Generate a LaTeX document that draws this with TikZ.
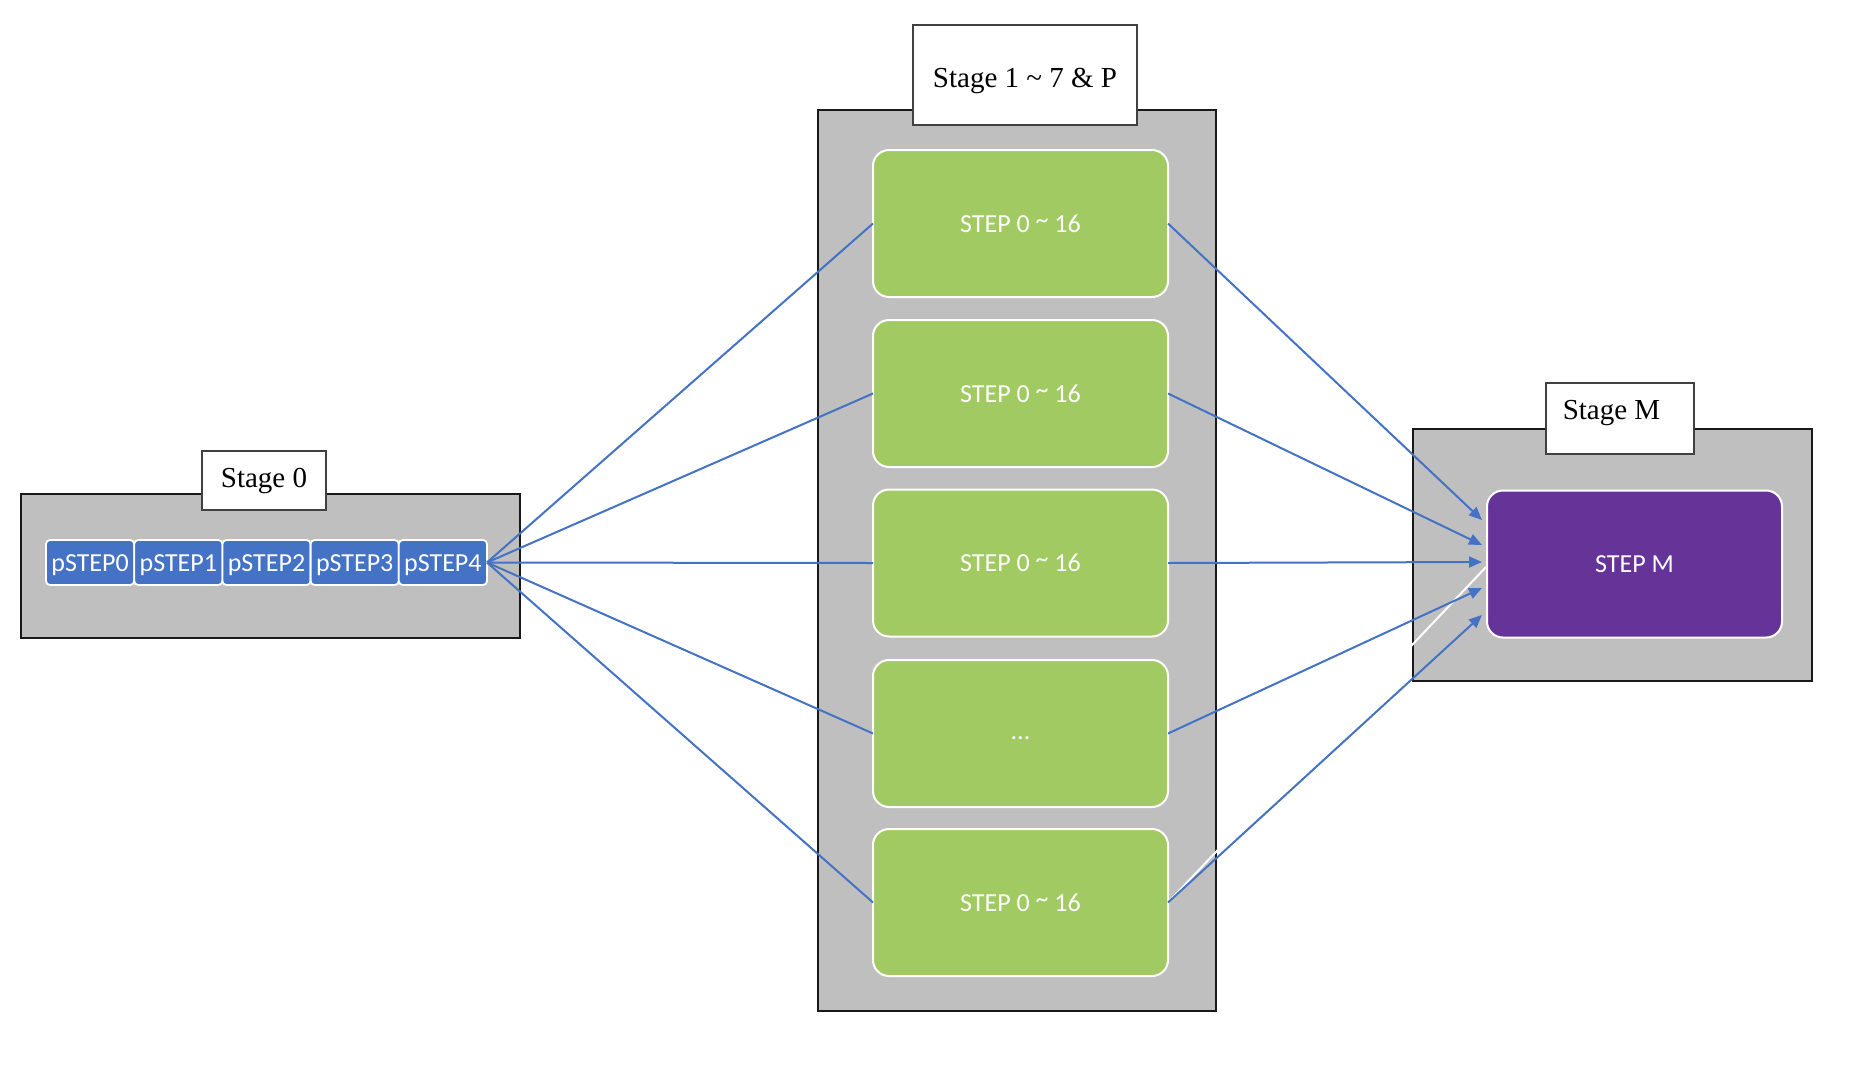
\documentclass[tikz,border=0pt]{standalone}
\usepackage{fontspec}
\setmainfont{Liberation Serif}
\newfontfamily\calibri{Carlito}
\usetikzlibrary{arrows.meta,calc}
\definecolor{stagegray}{HTML}{BFBFBF}
\definecolor{stepgreen}{HTML}{A1CB62}
\definecolor{steppurple}{HTML}{663399}
\definecolor{pblue}{HTML}{4472C4}
\definecolor{linkblue}{HTML}{4472C4}
\definecolor{labborder}{HTML}{404040}
\newcommand{\midtilde}{\raisebox{0.15em}{\textasciitilde}}
\begin{document}
\begin{tikzpicture}[x=1pt,y=-1pt,
  outerbox/.style={draw=black!90, line width=2.5pt, fill=stagegray, outer sep=0pt, inner sep=0pt},
  labelbox/.style={draw=labborder, line width=1.3pt, fill=white, outer sep=0pt, inner sep=0pt, font=\fontsize{29}{34}\selectfont},
  greenbox/.style={draw=white, line width=2pt, fill=stepgreen, rounded corners=16pt, minimum width=295pt, minimum height=147pt, outer sep=0pt, inner sep=0pt, text=white, font=\calibri\fontsize{26}{31}\selectfont},
  purplebox/.style={greenbox, fill=steppurple},
  pbox/.style={draw=white, line width=1.8pt, fill=pblue, rounded corners=4pt, minimum width=88.2pt, minimum height=45pt, outer sep=0pt, inner sep=0pt, text=white, text height=17pt, text depth=0pt, font=\calibri\fontsize{26}{31}\selectfont},
  link/.style={draw=linkblue, line width=2pt},
  arrowlink/.style={link, -{Triangle[length=13pt,width=11pt]}},
  ghost/.style={draw=white, line width=2pt}
]
\useasboundingbox (0,0) rectangle (1850,1082);

% outer stage boxes
\node[outerbox, minimum width=499pt, minimum height=144pt] (s0box) at (270.5,566) {};
\node[outerbox, minimum width=398pt, minimum height=901pt] (midbox) at (1017,560.5) {};
\node[outerbox, minimum width=399pt, minimum height=252pt] (smbox) at (1612.5,555) {};

% stage labels
\node[labelbox, minimum width=124pt, minimum height=59pt] (s0lab) at (264,480.5) {Stage 0};
\node[labelbox, minimum width=224pt, minimum height=100pt, text height=24pt, text depth=0pt] (midlab) at (1025,75) {Stage 1 \textasciitilde{} 7 \& P};
\node[labelbox, minimum width=148pt, minimum height=71pt] (smlab) at (1620,418.5) {};
\node[font=\fontsize{29}{34}\selectfont, inner sep=0pt] (smtext) at (1611.5,413) {Stage M};

% pSTEP boxes
\node[pbox] (p0) at (90.1,562.5) {pSTEP0};
\node[pbox] (p1) at (178.3,562.5) {pSTEP1};
\node[pbox] (p2) at (266.5,562.5) {pSTEP2};
\node[pbox] (p3) at (354.7,562.5) {pSTEP3};
\node[pbox] (p4) at (442.9,562.5) {pSTEP4};

% green step boxes
\node[greenbox] (g1) at (1020.5,223.5) {STEP 0 \midtilde{} 16};
\node[greenbox] (g2) at (1020.5,393.5) {STEP 0 \midtilde{} 16};
\node[greenbox] (g3) at (1020.5,563) {STEP 0 \midtilde{} 16};
\node[greenbox, text height=12pt, text depth=0pt] (g4) at (1020.5,733.5) {...};
\node[greenbox] (g5) at (1020.5,902.5) {STEP 0 \midtilde{} 16};

% step M
\node[purplebox] (stepM) at (1634.5,564) {STEP M};

% arrow tip targets
\coordinate (t1) at ($(stepM.west)+(-5,-44)$);
\coordinate (t2) at ($(stepM.west)+(-5,-19)$);
\coordinate (t3) at ($(stepM.west)+(-5,-2)$);
\coordinate (t4) at ($(stepM.west)+(-5,24)$);
\coordinate (t5) at ($(stepM.west)+(-5,51)$);
\coordinate (w5) at ($(stepM.west)+(-1,3)$);

% connectors from pSTEP4
\foreach \g in {g1,g2,g3,g4,g5}{
  \draw[link] (p4.east) -- (\g.west);
}

% faint white connector
\draw[ghost] (g5.east) -- (w5);

% arrows to STEP M
\draw[arrowlink] (g1.east) -- (t1);
\draw[arrowlink] (g2.east) -- (t2);
\draw[arrowlink] (g3.east) -- (t3);
\draw[arrowlink] (g4.east) -- (t4);
\draw[arrowlink] (g5.east) -- (t5);
\end{tikzpicture}
\end{document}
